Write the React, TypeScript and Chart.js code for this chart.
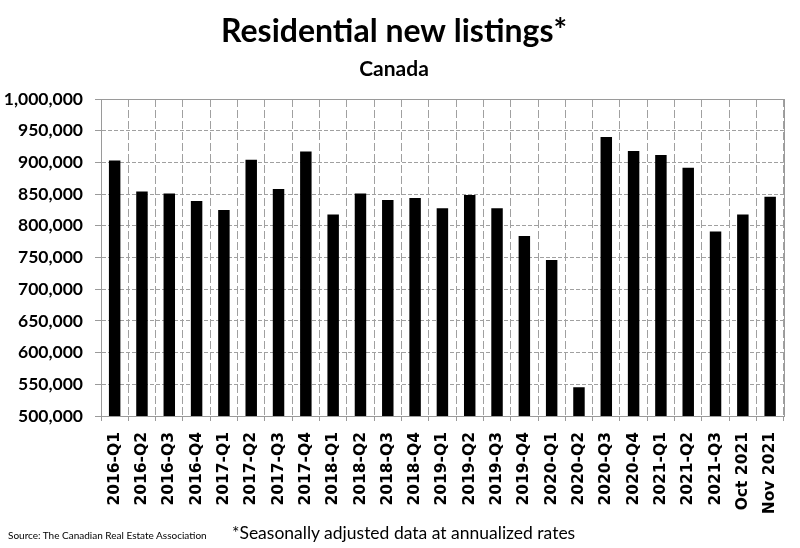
import React, { useEffect, useRef } from "react";
import { Chart, registerables } from "chart.js";

Chart.register(...registerables);

const categories = [
  "2016-Q1", "2016-Q2", "2016-Q3", "2016-Q4",
  "2017-Q1", "2017-Q2", "2017-Q3", "2017-Q4",
  "2018-Q1", "2018-Q2", "2018-Q3", "2018-Q4",
  "2019-Q1", "2019-Q2", "2019-Q3", "2019-Q4",
  "2020-Q1", "2020-Q2", "2020-Q3", "2020-Q4",
  "2021-Q1", "2021-Q2", "2021-Q3", "Oct 2021", "Nov 2021",
];

const newListings = [
  903000, 854000, 851000, 839000,
  825000, 904000, 858000, 917000,
  818000, 851000, 840500, 844000,
  827500, 848500, 827500, 784000,
  746000, 545500, 940000, 918000,
  911500, 891500, 791000, 818000, 846000,
];

const yMin = 500000;
const yMax = 1000000;
const yStep = 50000;

const titleText = "Residential new listings*";
const subtitleText = "Canada";
const sourceText = "Source: The Canadian Real Estate Association";
const noteText = "*Seasonally adjusted data at annualized rates";

const plotBorder = {
  id: "plotBorder",
  afterDraw(chart: any) {
    const { ctx, chartArea } = chart;
    ctx.save();
    ctx.strokeStyle = "#9a9a9a";
    ctx.lineWidth = 1;
    ctx.setLineDash([]);
    ctx.strokeRect(
      Math.round(chartArea.left) + 0.5,
      Math.round(chartArea.top) + 0.5,
      Math.round(chartArea.right - chartArea.left),
      Math.round(chartArea.bottom - chartArea.top)
    );
    ctx.restore();
  },
};

export default function App() {
  const ref = useRef<HTMLCanvasElement | null>(null);

  useEffect(() => {
    if (!ref.current) return;
    const chart = new Chart(ref.current, {
      type: "bar",
      data: {
        labels: categories,
        datasets: [
          {
            label: "New listings",
            data: newListings,
            backgroundColor: "#000000",
            borderWidth: 0,
            barPercentage: 0.42,
            categoryPercentage: 1,
          },
        ],
      },
      options: {
        responsive: false,
        animation: false,
        layout: { padding: { left: 0, right: 12, top: 0, bottom: 0 } },
        plugins: {
          legend: { display: false },
          tooltip: { enabled: false },
          title: {
            display: true,
            text: titleText,
            color: "#000",
            font: { family: "Lato", size: 32, weight: "bold" },
            padding: { top: 12, bottom: 2 },
          },
          subtitle: {
            display: true,
            text: subtitleText,
            color: "#000",
            font: { family: "Lato", size: 21, weight: "bold" },
            padding: { top: 4, bottom: 17.4 },
          },
        },
        scales: {
          x: {
            grid: {
              color: "#a0a0a0",
              offset: true,
              tickLength: 5,
              tickBorderDash: [],
              tickColor: "#9a9a9a",
            },
            border: { color: "#9a9a9a", dash: [8, 3] },
            ticks: {
              color: "#000",
              font: { family: "DejaVu Sans", size: 15.5, weight: "bold" },
              minRotation: 90,
              maxRotation: 90,
              autoSkip: false,
              padding: 11,
            },
            afterFit(scale: any) {
              scale.height = 132;
            },
          },
          y: {
            min: yMin,
            max: yMax,
            grid: {
              color: "#a0a0a0",
              tickLength: 6,
              tickBorderDash: [],
              tickColor: "#9a9a9a",
            },
            border: { color: "#9a9a9a", dash: [4, 2] },
            ticks: {
              stepSize: yStep,
              color: "#000",
              padding: 12,
              font: { family: "Lato", size: 17.5, weight: "bold" },
              callback: (v: any) => Number(v).toLocaleString("en-US"),
            },
            afterFit(scale: any) {
              scale.width = 101;
            },
          },
        },
      },
      plugins: [plotBorder],
    });
    return () => chart.destroy();
  }, []);

  return (
    <div style={{ position: "fixed", left: 0, top: 0, width: 800, height: 548, background: "#fff" }}>
      <canvas ref={ref} width={800} height={548} />
      <div
        style={{
          position: "absolute",
          left: 8,
          top: 529,
          fontFamily: "Lato",
          fontSize: 10,
          color: "#000",
          whiteSpace: "nowrap",
          lineHeight: "13px",
        }}
      >
        {sourceText}
      </div>
      <div
        style={{
          position: "absolute",
          left: 232,
          top: 522,
          fontFamily: "Lato",
          fontSize: 17.5,
          color: "#000",
          whiteSpace: "nowrap",
          lineHeight: "22px",
        }}
      >
        {noteText}
      </div>
    </div>
  );
}
